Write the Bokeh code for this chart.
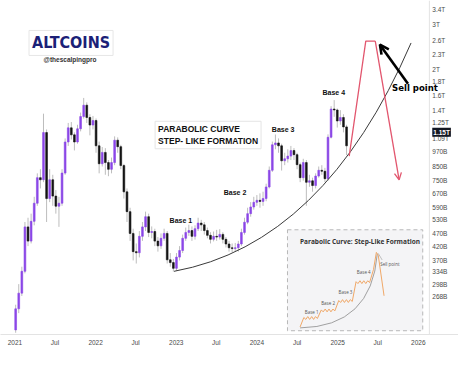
import math
import pandas as pd
from bokeh.plotting import figure
from bokeh.models import Range1d, LinearScale, FixedTicker, Label, Arrow, OpenHead, ColumnDataSource, Span
from bokeh.core.properties import value
from bokeh.embed import file_html
from bokeh.resources import INLINE

# ---------------- data (values in billions USD) ----------------
candle_start = "2021-01-04"
candle_step_days = 14
first_open = 200
closes = [241, 277, 336, 498, 439, 523, 614, 770, 756, 1148,
          640, 756, 654, 598, 614, 802, 1056, 1197, 1125, 1056,
          1187, 1323, 1463, 1312, 1227, 1277, 1021, 871, 963, 880,
          829, 880, 1073, 1013, 857, 679, 570, 470, 400, 396,
          458, 498, 545, 474, 478, 439, 421, 450, 470, 372,
          363, 345, 381, 404, 450, 474, 482, 458, 490, 515,
          507, 482, 462, 446, 458, 455, 466, 446, 428, 414,
          411, 414, 428, 474, 519, 560, 594, 619, 630, 624,
          640, 709, 822, 1030, 1047, 1021, 894, 910, 932, 979,
          944, 864, 770, 880, 739, 749, 718, 781, 822, 815,
          763, 1101, 1414, 1402, 1272, 1312, 1207, 1021]
highs = [250, 300, 350, 520, 540, 560, 650, 800, 830, 1357,
         1180, 830, 790, 690, 650, 830, 1090, 1250, 1260, 1150,
         1230, 1370, 1560, 1500, 1350, 1330, 1300, 1060, 1010, 1000,
         900, 920, 1110, 1100, 1030, 870, 700, 590, 490, 430,
         480, 520, 570, 560, 500, 490, 455, 470, 490, 480,
         395, 375, 395, 420, 465, 495, 520, 500, 505, 540,
         530, 520, 495, 475, 478, 485, 488, 475, 455, 440,
         430, 432, 440, 490, 540, 590, 620, 650, 660, 670,
         680, 730, 850, 1060, 1130, 1090, 1040, 960, 990, 1020,
         1000, 960, 880, 910, 900, 790, 770, 800, 850, 860,
         840, 1130, 1450, 1530, 1420, 1400, 1350, 1230]
lows = [195, 232, 270, 330, 420, 430, 505, 600, 700, 740,
        520, 620, 600, 560, 498, 600, 790, 1020, 1080, 980,
        1040, 1160, 1300, 1250, 1120, 1180, 960, 800, 850, 790,
        780, 800, 860, 960, 830, 640, 520, 440, 370, 360,
        380, 440, 480, 455, 450, 420, 400, 410, 440, 360,
        350, 335, 338, 370, 395, 440, 460, 440, 445, 480,
        480, 465, 450, 430, 438, 440, 445, 430, 415, 400,
        398, 400, 400, 420, 465, 510, 545, 580, 600, 590,
        600, 625, 700, 810, 990, 960, 820, 860, 880, 900,
        900, 830, 740, 750, 600, 710, 680, 700, 770, 790,
        740, 750, 1090, 1320, 1200, 1230, 1150, 940]

y_tick_values = [3400, 3000, 2600, 2300, 2000, 1800, 1600, 1400, 1250, 1090,
                 970, 850, 750, 670, 590, 530, 470, 420, 370, 334, 298, 268]
y_tick_labels = ["3.4T", "3T", "2.6T", "2.3T", "2T", "1.8T", "1.6T", "1.4T", "1.25T", "1.09T",
                 "970B", "850B", "750B", "670B", "590B", "530B", "470B", "420B", "370B", "334B",
                 "298B", "268B"]
x_tick_dates = ["2021-01-01", "2021-07-01", "2022-01-01", "2022-07-01", "2023-01-01",
                "2023-07-01", "2024-01-01", "2024-07-01", "2025-01-01", "2025-07-01",
                "2026-01-01"]
x_tick_labels = ["2021", "Jul", "2022", "Jul", "2023", "Jul", "2024", "Jul", "2025", "Jul", "2026"]

last_price = 1150
last_price_text = "1.15T"

# parabolic support curve: start, control, end
curve_dates = ["2022-12-22", "2024-10-31", "2025-11-29"]
curve_values = [336, 428, 2538]

# projected path (red)
projection_dates = ["2025-02-22", "2025-05-08", "2025-06-20", "2025-10-06"]
projection_values = [932, 2580, 2580, 755]

# "Sell point" arrow: tail, tip
sell_dates = ["2025-11-15", "2025-07-11"]
sell_values = [1770, 2500]

base_texts = ["Base 1", "Base 2", "Base 3", "Base 4"]
base_dates = ["2023-01-22", "2023-09-24", "2024-04-29", "2024-12-14"]
base_values = [528, 678, 1177, 1630]

# inset schematic (inset units 0..100)
inset_u = [9.3, 12.1, 13.6, 15.0, 16.4, 17.9, 19.3, 20.7, 22.1, 25.0, 26.4, 27.9, 29.3, 30.7,
           32.1, 33.6, 35.0, 37.9, 39.3, 40.7, 42.1, 43.6, 45.0, 46.4, 47.9, 50.7, 52.1, 53.6,
           55.0, 56.4, 57.9, 59.3, 60.7, 63.6, 65.7, 67.1, 71.4]
inset_v = [3.7, 13.1, 11.2, 14.0, 11.2, 14.0, 11.2, 14.0, 12.1, 20.6, 18.7, 21.5, 18.7, 21.5,
           18.7, 21.5, 19.6, 29.9, 28.0, 30.8, 28.0, 30.8, 28.0, 30.8, 29.0, 48.6, 46.7, 49.5,
           46.7, 49.5, 46.7, 49.5, 47.7, 60.7, 77.6, 74.8, 34.6]
inset_curve_u = [9.3, 62.0, 66.4]   # start, control, end
inset_curve_v = [2.8, 4.0, 76.0]
inset_texts = ["Base 1", "Base 2", "Base 3", "Base 4"]
inset_text_u = [17.9, 30.0, 42.9, 56.4]
inset_text_v = [18.7, 27.1, 38.3, 57.9]

# ---------------- layout ----------------
W = 458
FH = 334
PRICE_SCALE_DATE = "2026-02-20"   # left edge of the price scale
PRICE_LABEL_DATE = "2026-03-05"


def ms(d):
    return pd.Timestamp(d).value / 1e6


# map reference-pixel positions (for decorative labels) to data coordinates
def at_x(rx):
    return ms("2021-01-01") + (rx - 15) / 83.5 * 365.25 * 86400000


def at_y(ry):
    return 3400 * math.exp(-(ry - 10) / 119.7)


UP = "#8b46e8"
DOWN = "#141414"
RED = "#e2566e"
SANS = "Liberation Sans"
COND = "'DejaVu Sans Condensed', 'Roboto', sans-serif"

p = figure(x_axis_type="datetime", y_axis_type="log",
           output_backend="svg", toolbar_location=None,
           x_range=Range1d(at_x(0), at_x(474)),
           y_range=Range1d(at_y(354), at_y(0)),
           min_border_left=0, min_border_top=0, min_border_right=0, min_border_bottom=0)
p.frame_width = W
p.frame_height = FH
p.outline_line_color = None
p.xgrid.visible = False
p.ygrid.visible = False
p.yaxis.visible = False
p.background_fill_color = "white"

p.extra_x_ranges = {"inset": Range1d(-212.14, 126.43)}
p.extra_y_ranges = {"inset": Range1d(-3.74, 327.1)}
p.extra_x_scales = {"inset": LinearScale()}
p.extra_y_scales = {"inset": LinearScale()}

# x axis
xt = [ms(d) for d in x_tick_dates]
p.xaxis.ticker = FixedTicker(ticks=xt)
p.xaxis.major_label_overrides = dict(zip(xt, x_tick_labels))
p.xaxis.major_label_text_font = SANS
p.xaxis.major_label_text_font_size = "6.5px"
p.xaxis.major_label_text_color = "#4a4a4a"
p.xaxis.major_tick_line_color = None
p.xaxis.major_tick_out = 0
p.xaxis.major_tick_in = 0
p.xaxis.minor_tick_line_color = None
p.xaxis.minor_tick_out = 0
p.xaxis.axis_line_color = "#e3e3e3"
p.xaxis.major_label_standoff = 4

# price scale (right)
p.add_layout(Span(location=ms(PRICE_SCALE_DATE), dimension="height",
                  line_color="#e3e3e3", line_width=1))
p.text(x=[ms(PRICE_LABEL_DATE)] * len(y_tick_values), y=y_tick_values, text=y_tick_labels,
       text_font=value(SANS), text_font_size="6.5px", text_color="#4a4a4a",
       text_align="left", text_baseline="middle")

# candles
dates = pd.date_range(candle_start, periods=len(closes), freq=f"{candle_step_days}D")
opens = [first_open] + closes[:-1]
src = ColumnDataSource(dict(
    x=dates, h=highs, l=lows,
    top=[max(o, c) for o, c in zip(opens, closes)],
    bottom=[min(o, c) for o, c in zip(opens, closes)],
    color=[UP if c >= o else DOWN for o, c in zip(opens, closes)],
))
p.segment("x", "h", "x", "l", source=src, line_color="#bdbdbd", line_width=1)
p.vbar(x="x", top="top", bottom="bottom", width=8 * 86400000, source=src,
       fill_color="color", line_color="color", line_width=0.6)

# parabolic curve
p.quadratic(x0=[ms(curve_dates[0])], y0=[curve_values[0]],
            x1=[ms(curve_dates[2])], y1=[curve_values[2]],
            cx=[ms(curve_dates[1])], cy=[curve_values[1]],
            line_color="#3a3a3a", line_width=1)

# projection
pd_ms = [ms(d) for d in projection_dates]
p.line(pd_ms[:3], projection_values[:3], line_color=RED, line_width=1.3)
p.add_layout(Arrow(x_start=pd_ms[2], y_start=projection_values[2],
                   x_end=pd_ms[3], y_end=projection_values[3],
                   line_color=RED, line_width=1.3,
                   end=OpenHead(size=7, line_color=RED, line_width=1.3)))

# sell arrow
p.add_layout(Arrow(x_start=ms(sell_dates[0]), y_start=sell_values[0],
                   x_end=ms(sell_dates[1]), y_end=sell_values[1],
                   line_color="black", line_width=2.6,
                   end=OpenHead(size=9, line_color="black", line_width=2.6)))
p.add_layout(Label(x=at_x(429), y=at_y(92), text="Sell point", text_align="center",
                   text_baseline="middle", text_font=COND, text_font_style="bold",
                   text_font_size="9.5px", text_color="black"))

# base labels
for t, d, v in zip(base_texts, base_dates, base_values):
    p.add_layout(Label(x=ms(d), y=v, text=t, text_align="center", text_baseline="middle",
                       text_font=SANS, text_font_style="bold",
                       text_font_size="7px", text_color="#111111",
                       background_fill_color="white", padding=1))

# headline box
p.add_layout(Label(x=at_x(160), y=at_y(128), text="PARABOLIC CURVE\nSTEP- LIKE FORMATION",
                   text_align="left", text_baseline="top", text_font=SANS,
                   text_font_style="bold", text_font_size="8.5px", text_color="#111111",
                   text_line_height=1.15, background_fill_color="white",
                   border_line_color="#e4e4e4", padding=3))

# title
p.add_layout(Label(x=at_x(73), y=at_y(45), text="ALTCOINS", text_align="center",
                   text_baseline="middle", text_font=COND, text_font_style="bold",
                   text_font_size="16px", text_color="#1b2177",
                   background_fill_color="white", border_line_color="#e6e6e6", padding=3))
p.add_layout(Label(x=at_x(72), y=at_y(63), text="@thescalpingpro", text_align="center",
                   text_baseline="middle", text_font=SANS, text_font_style="bold",
                   text_font_size="6.5px", text_color="#333333"))

# inset
ik = dict(x_range_name="inset", y_range_name="inset")
p.quad(left=[0], right=[100], bottom=[0], top=[100], fill_color="#f4f4f6",
       line_color="#b8b8b8", line_dash="4 3", line_width=1, **ik)
p.add_layout(Label(x=53.6, y=88.8, text="Parabolic Curve: Step-Like Formation",
                   text_align="center", text_baseline="middle", text_font="Open Sans",
                   text_font_style="bold", text_font_size="6.5px", text_color="#333333", **ik))
p.quadratic(x0=[inset_curve_u[0]], y0=[inset_curve_v[0]], x1=[inset_curve_u[2]],
            y1=[inset_curve_v[2]], cx=[inset_curve_u[1]], cy=[inset_curve_v[1]],
            line_color="#8a8a8a", line_width=0.8, **ik)
p.line(inset_u, inset_v, line_color="#f0a868", line_width=1, **ik)
for t, u, v in zip(inset_texts, inset_text_u, inset_text_v):
    p.add_layout(Label(x=u, y=v, text=t, text_align="center", text_baseline="middle",
                       text_font="Open Sans", text_font_size="4.5px", text_color="#555555", **ik))
p.line([70.0, 67.1], [70.1, 76.6], line_color="#999999", line_width=0.6, **ik)
p.add_layout(Label(x=75.7, y=66.4, text="Sell point", text_align="center",
                   text_baseline="middle", text_font="Open Sans", text_font_size="4.5px",
                   text_color="#555555", **ik))

# last price tag
p.add_layout(Label(x=ms(PRICE_LABEL_DATE), y=last_price, text=last_price_text,
                   text_align="left", text_baseline="middle", text_font=SANS,
                   text_font_style="bold", text_font_size="6.5px", text_color="white",
                   background_fill_color="#131722", padding=1))

open("out.html", "w").write(file_html(p, INLINE))
